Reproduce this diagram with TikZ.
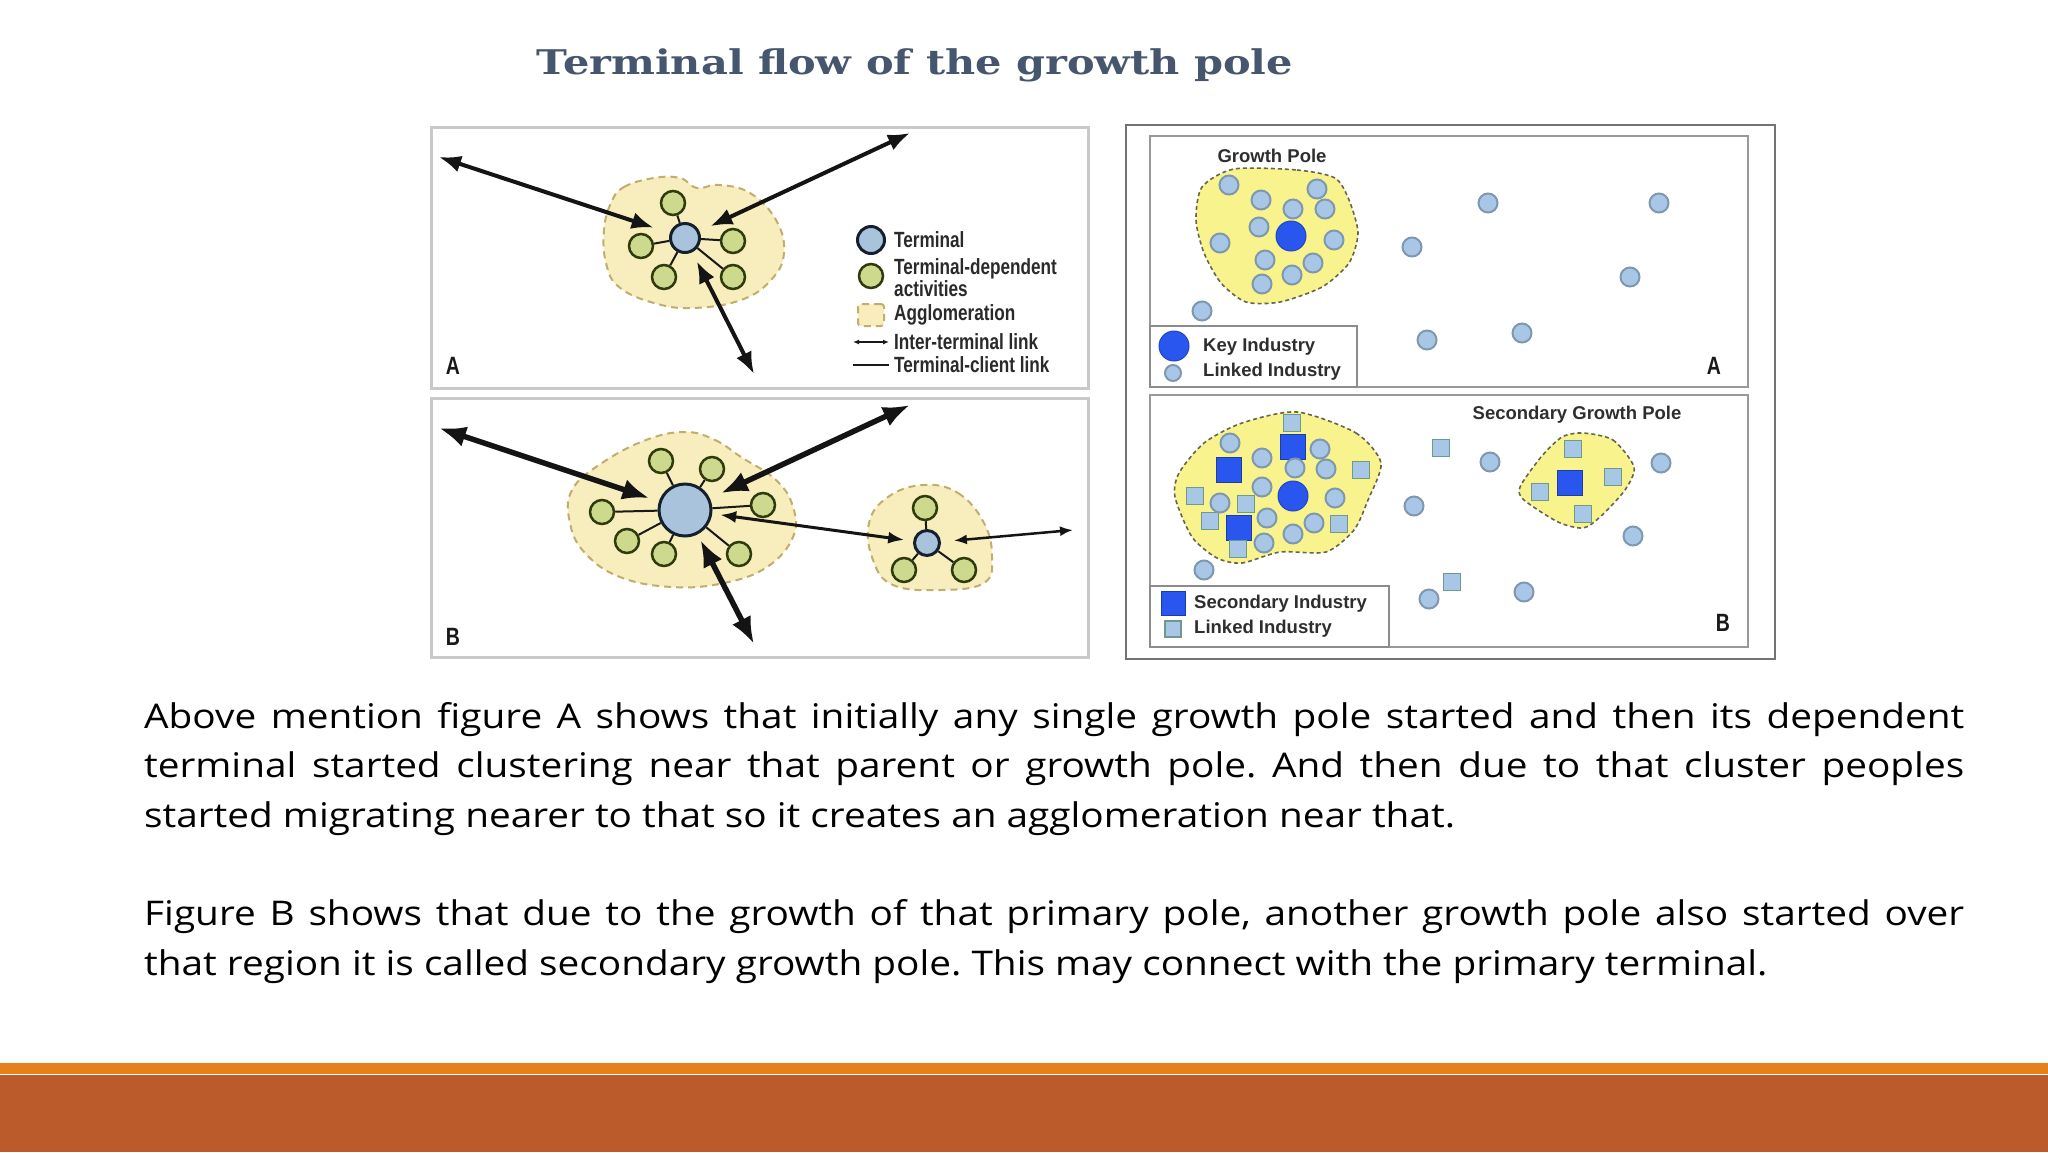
\documentclass[tikz,border=0pt]{standalone}
\usepackage{fontspec}
\setmainfont{Open Sans}[FakeStretch=1.14]
\newfontfamily\titlefont{DejaVu Serif}[FakeStretch=1.22]
\newfontfamily\condfont[FakeStretch=0.78]{Liberation Sans}
\newfontfamily\lsfont{Liberation Sans}
\usetikzlibrary{arrows.meta}
\definecolor{titlec}{HTML}{46566F}
\definecolor{agfill}{HTML}{F8EDBD}
\definecolor{agline}{HTML}{BFAE6E}
\definecolor{grnfill}{HTML}{CDD98C}
\definecolor{grnline}{HTML}{2F3A0E}
\definecolor{termfill}{HTML}{A9C3DD}
\definecolor{termline}{HTML}{14202C}
\definecolor{lframe}{HTML}{C9C9C9}
\definecolor{yblob}{HTML}{F8F38C}
\definecolor{yline}{HTML}{66664E}
\definecolor{keyblue}{HTML}{2A56F0}
\definecolor{lfill}{HTML}{A8C6E6}
\definecolor{lline}{HTML}{7F98AE}
\definecolor{sqline}{HTML}{6E9A88}
\definecolor{orangeband}{HTML}{E5801A}
\definecolor{brownband}{HTML}{BB5A2A}
\definecolor{legtext}{HTML}{2A2A2A}
\tikzset{
  lpanel/.style={draw=lframe, line width=3pt},
  term/.style={circle, draw=termline, fill=termfill, line width=3pt, inner sep=0pt},
  grn/.style={circle, draw=grnline, fill=grnfill, line width=2.5pt, inner sep=0pt, minimum size=24pt},
  aggl/.style={fill=agfill, draw=agline, dash pattern=on 7pt off 5pt, line width=2pt},
  tlink/.style={draw=black!90, line width=2pt},
  arrA/.style={draw=black!92, line width=4pt, {Latex[length=22pt,width=17pt]}-{Latex[length=22pt,width=17pt]}},
  arrB/.style={draw=black!92, line width=5.5pt, {Latex[length=27pt,width=21pt]}-{Latex[length=27pt,width=21pt]}},
  arrM/.style={draw=black!92, line width=3pt, {Latex[length=16pt,width=12pt]}-{Latex[length=16pt,width=12pt]}},
  arrS/.style={draw=black!92, line width=2.5pt, {Latex[length=13pt,width=10pt]}-{Latex[length=13pt,width=10pt]}},
  arrLeg/.style={draw=black!90, line width=1.6pt, {Latex[length=6pt,width=5pt]}-{Latex[length=6pt,width=5pt]}},
  legtxt/.style={anchor=west, inner sep=0pt, text=legtext, font=\condfont\bfseries\fontsize{22}{23}\selectfont},
  panlbl/.style={inner sep=0pt, text=black!90, font=\condfont\bfseries\fontsize{25}{25}\selectfont},
  rpanel/.style={draw=black!40, line width=2pt},
  rblob/.style={fill=yblob, draw=yline, dash pattern=on 4pt off 3pt, line width=1.6pt},
  lc/.style={circle, fill=lfill, draw=lline, line width=2pt, inner sep=0pt, minimum size=19pt},
  keyc/.style={circle, fill=keyblue, draw=keyblue!80!black, line width=1pt, inner sep=0pt, minimum size=30pt},
  secsq/.style={rectangle, fill=keyblue, draw=keyblue!70!black, line width=1pt, inner sep=0pt, minimum size=25pt},
  lsq/.style={rectangle, fill=lfill, draw=sqline, line width=1.8pt, inner sep=0pt, minimum size=17pt},
  rtxt/.style={inner sep=0pt, text=black!82, font=\lsfont\bfseries\fontsize{18.5}{20}\selectfont},
  body/.style={anchor=base west, inner sep=0pt, text=black, font=\frenchspacing\fontsize{34}{49.5}\selectfont}
}
\begin{document}
\begin{tikzpicture}[x=1pt,y=-1pt]
\useasboundingbox (0,0) rectangle (2048,1152);
\fill[white] (0,0) rectangle (2048,1152);

% title
\node[font=\titlefont\bfseries\fontsize{34}{40}\selectfont, text=titlec, inner sep=0pt] (title) at (915,65) {Terminal flow of the growth pole};

% ---------------- left panel A ----------------
\draw[lpanel] (431,127) rectangle (1088,388);
\path[aggl] plot[smooth cycle, tension=0.7] coordinates {(611,203) (624,187) (654,178) (680,178) (697,188) (719,185) (750,193) (776,220) (784,253) (771,280) (741,300) (693,308) (654,303) (619,287) (606,263) (604,230)};
\node[term, minimum size=29pt] (tA) at (685,238) {};
\node[grn] (gA1) at (673,203) {};
\node[grn] (gA2) at (641,246) {};
\node[grn] (gA3) at (733,241) {};
\node[grn] (gA4) at (664,277) {};
\node[grn] (gA5) at (733,277) {};
\foreach \i in {1,...,5} \draw[tlink] (tA) -- (gA\i);
\coordinate (eA1) at (439,157);
\coordinate (eA2) at (910,133);
\coordinate (eA3) at (754,374);
\draw[arrA, shorten >=17pt] (eA1) -- (tA);
\draw[arrA, shorten >=12pt] (eA2) -- (tA);
\draw[arrA, shorten >=10pt] (eA3) -- (tA);
\node[panlbl] (lblLA) at (453,366) {A};

% legend
\node[term, minimum size=27pt] (lgT) at (871,240) {};
\node[grn, minimum size=24pt] (lgG) at (871,276) {};
\node[rectangle, rounded corners=3pt, aggl, minimum width=26pt, minimum height=22pt] (lgA) at (871,315) {};
\coordinate (lgL1) at (853,342);
\coordinate (lgL2) at (889,342);
\draw[arrLeg] (lgL1) -- (lgL2);
\coordinate (lgC1) at (853,365);
\coordinate (lgC2) at (889,365);
\draw[draw=black!90, line width=1.6pt] (lgC1) -- (lgC2);
\node[legtxt] (ltT) at (894,240) {Terminal};
\node[legtxt, align=left] (ltG) at (894,278) {Terminal-dependent\\[-1pt]activities};
\node[legtxt] (ltA) at (894,315) {Agglomeration};
\node[legtxt] (ltI) at (894,342) {Inter-terminal link};
\node[legtxt] (ltC) at (894,365) {Terminal-client link};

% ---------------- left panel B ----------------
\draw[lpanel] (431,398) rectangle (1088,657);
\path[aggl] plot[smooth cycle, tension=0.7] coordinates {(685,432) (715,440) (741,457) (776,480) (793,507) (793,537) (767,567) (724,583) (672,587) (620,577) (585,553) (570,523) (572,490) (602,463) (646,440)};
\path[aggl] plot[smooth cycle, tension=0.7] coordinates {(923,485) (958,493) (984,523) (992,557) (984,583) (940,590) (893,585) (873,560) (869,523) (888,497)};
\node[term, minimum size=52pt] (tB) at (685,510) {};
\node[grn] (gB1) at (661,461) {};
\node[grn] (gB2) at (712,469) {};
\node[grn] (gB3) at (602,512) {};
\node[grn] (gB4) at (763,505) {};
\node[grn] (gB5) at (627,541) {};
\node[grn] (gB6) at (664,554) {};
\node[grn] (gB7) at (739,554) {};
\foreach \i in {1,...,7} \draw[tlink] (tB) -- (gB\i);
\node[term, minimum size=25pt] (tC) at (927,543) {};
\node[grn] (gC1) at (925,508) {};
\node[grn] (gC2) at (904,570) {};
\node[grn] (gC3) at (964,570) {};
\foreach \i in {1,...,3} \draw[tlink] (tC) -- (gC\i);
\coordinate (eB1) at (439,428);
\coordinate (eB2) at (910,405);
\coordinate (eB3) at (754,644);
\coordinate (eB4) at (1073,530);
\draw[arrB, shorten >=10pt] (eB1) -- (tB);
\draw[arrB, shorten >=12pt] (eB2) -- (tB);
\draw[arrB, shorten >=6pt] (eB3) -- (tB);
\draw[arrM, shorten <=8pt, shorten >=9pt] (tB) -- (tC);
\draw[arrS, shorten >=13pt] (eB4) -- (tC);
\node[panlbl] (lblLB) at (453,637) {B};

% ---------------- right panels ----------------
\draw[draw=black!55, line width=2.4pt] (1126,125) rectangle (1775,659);
\draw[rpanel] (1150,136) rectangle (1748,387);
\draw[rpanel] (1150,395) rectangle (1748,647);

% right A
\node[rtxt] (gpT) at (1272,156) {Growth Pole};
\path[rblob] plot[smooth cycle, tension=0.45] coordinates {(1234,169) (1297,170) (1335,178) (1349,200) (1358,233) (1349,263) (1322,287) (1280,302) (1246,302) (1221,283) (1204,253) (1196,220) (1202,187)};
\node[keyc] (kA) at (1291,236) {};
\foreach \x/\y [count=\i] in {1229/185,1261/200,1317/189,1293/209,1325/209,1259/227,1220/243,1334/240,1265/260,1313/263,1292/275,1262/284,1488/203,1659/203,1412/247,1630/277,1202/311,1427/340,1522/333}
  \node[lc] (lcA\i) at (\x,\y) {};
\draw[draw=black!45, line width=1.5pt] (1150,326) rectangle (1357,387);
\node[keyc] (lgK) at (1174,346) {};
\node[lc, minimum size=16pt] (lgLA) at (1173,373) {};
\node[rtxt, anchor=west] (ltK) at (1203,347) {Key Industry};
\node[rtxt, anchor=west] (ltLA) at (1203,372) {Linked Industry};
\node[panlbl] (lblRA) at (1714,366) {A};

% right B
\node[rtxt] (sgpT) at (1577,415) {Secondary Growth Pole};
\path[rblob] plot[smooth cycle, tension=0.45] coordinates {(1297,412) (1356,433) (1381,463) (1368,500) (1354,530) (1326,552) (1280,552) (1242,563) (1217,558) (1192,537) (1175,497) (1179,473) (1204,443) (1242,423)};
\path[rblob] plot[smooth cycle, tension=0.45] coordinates {(1583,433) (1613,440) (1634,467) (1625,490) (1600,517) (1583,528) (1558,522) (1524,500) (1520,487) (1541,457) (1562,437)};
\node[keyc] (kB) at (1293,496) {};
\foreach \x/\y [count=\i] in {1293/447,1229/470,1239/528,1570/483}
  \node[secsq] (sqB\i) at (\x,\y) {};
\foreach \x/\y [count=\i] in {1292/423,1361/470,1195/496,1246/504,1210/521,1339/524,1238/549,1441/448,1452/582,1573/449,1613/477,1540/492,1583/514}
  \node[lsq] (lqB\i) at (\x,\y) {};
\foreach \x/\y [count=\i] in {1230/443,1262/458,1320/449,1295/468,1326/469,1262/487,1220/503,1335/498,1267/518,1314/523,1293/534,1264/543,1204/570,1490/462,1414/506,1661/463,1633/536,1429/599,1524/592}
  \node[lc] (lcB\i) at (\x,\y) {};
\draw[draw=black!45, line width=1.5pt] (1150,586) rectangle (1389,647);
\node[secsq, minimum size=24pt] (lgS) at (1173,603) {};
\node[lsq, minimum size=16pt] (lgLB) at (1173,629) {};
\node[rtxt, anchor=west] (ltS) at (1194,604) {Secondary Industry};
\node[rtxt, anchor=west] (ltLB) at (1194,629) {Linked Industry};
\node[panlbl] (lblRB) at (1723,623) {B};

% ---------------- body text ----------------
\node[body] (p1a) at (144,728) {\makebox[1820pt][s]{Above mention figure A shows that initially any single growth pole started and then its dependent}};
\node[body] (p1b) at (144,777) {\makebox[1820pt][s]{terminal started clustering near that parent or growth pole. And then due to that cluster peoples}};
\node[body] (p1c) at (144,827) {started migrating nearer to that so it creates an agglomeration near that.};
\node[body] (p2a) at (144,925) {\makebox[1820pt][s]{Figure B shows that due to the growth of that primary pole, another growth pole also started over}};
\node[body] (p2b) at (144,975) {that region it is called secondary growth pole. This may connect with the primary terminal.};

% ---------------- bottom bands ----------------
\fill[orangeband] (0,1063) rectangle (2048,1074);
\fill[brownband] (0,1075) rectangle (2048,1152);
\end{tikzpicture}
\end{document}
